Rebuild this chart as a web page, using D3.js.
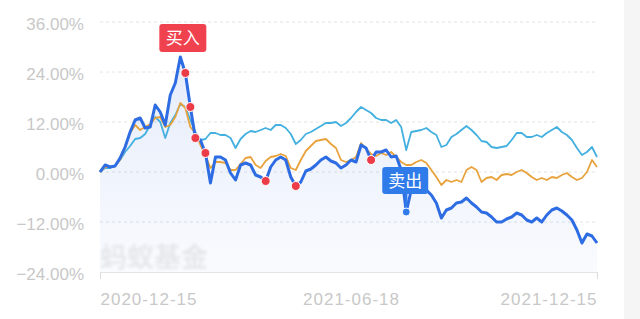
<!DOCTYPE html>
<html>
<head>
<meta charset="utf-8">
<script src="https://cdn.jsdelivr.net/npm/d3@7/dist/d3.min.js"></script>
<style>
  html, body { margin: 0; padding: 0; background: #fff; }
  svg { display: block; font-family: Roboto, "Noto Sans", sans-serif; }
</style>
</head>
<body>
<div id="main"></div>
<script>
// fund (dark blue), benchmark (orange), index (light blue), all in %
var fundValues = [
  0.00, 1.68, 1.20, 1.44, 3.36, 6.00, 9.60, 12.48, 12.96, 10.56,
  10.80, 16.08, 14.40, 11.28, 18.48, 21.36, 27.60, 23.76, 15.60, 8.16,
  7.68, 4.56, -2.64, 3.60, 3.60, 2.88, -0.24, -1.92, 1.68, 2.16,
  1.68, -0.72, -1.20, -2.16, 1.20, 2.88, 3.60, 2.88, -1.20, -3.36,
  -2.40, 0.24, 0.72, 1.68, 2.88, 3.60, 2.64, 2.16, 0.96, 1.68,
  2.88, 2.40, 6.48, 5.76, 2.88, 4.80, 4.80, 5.28, 3.60, 3.84,
  0.48, -9.60, -4.32, -3.84, -3.84, -4.32, -5.52, -7.44, -11.04, -9.12,
  -8.64, -7.44, -7.20, -6.24, -7.44, -8.40, -9.60, -9.84, -10.80, -12.00,
  -12.00, -11.28, -10.80, -9.84, -10.32, -11.52, -12.00, -11.04, -12.00, -10.32,
  -9.12, -8.64, -9.36, -10.32, -11.52, -13.92, -17.04, -14.88, -15.36, -17.04
];
var benchValues = [
  0.00, 1.20, 1.20, 1.44, 2.88, 5.76, 9.36, 11.28, 10.08, 10.80,
  11.52, 12.96, 13.20, 10.80, 11.28, 13.20, 16.56, 15.36, 10.80, 9.36,
  6.48, 4.08, 0.96, 2.40, 2.40, 2.16, 0.48, 0.48, 1.92, 3.36,
  3.60, 1.68, 0.96, 2.64, 3.60, 3.84, 4.32, 3.84, 0.96, 0.48,
  2.88, 5.04, 6.24, 7.44, 7.68, 7.92, 6.72, 5.76, 2.88, 2.40,
  2.88, 3.60, 6.96, 5.52, 4.32, 3.84, 4.56, 4.08, 4.80, 3.60,
  2.40, 1.68, 1.68, 2.40, 2.88, 2.16, 0.48, -1.20, -3.12, -1.92,
  -2.40, -1.92, -2.40, 0.48, 1.20, 0.48, -2.40, -1.44, -1.20, -1.92,
  -0.72, -0.48, -0.72, 0.00, 0.48, -0.24, -1.20, -1.92, -1.44, -1.92,
  -1.20, -1.44, -0.72, -0.24, -1.20, -1.92, -1.44, 0.00, 2.88, 1.20
];
var indexValues = [
  0.00, 0.96, 0.96, 1.44, 2.88, 4.80, 6.24, 7.92, 8.16, 9.12,
  11.28, 13.20, 12.00, 8.16, 11.76, 13.68, 16.32, 15.60, 12.48, 9.60,
  7.68, 7.92, 9.36, 9.36, 8.88, 8.88, 8.16, 5.76, 7.92, 9.12,
  9.84, 9.60, 10.08, 10.56, 10.08, 11.28, 11.28, 10.56, 9.12, 6.72,
  7.68, 9.12, 9.60, 10.32, 11.04, 11.76, 11.76, 12.00, 11.04, 11.76,
  12.96, 14.40, 15.60, 14.88, 14.16, 12.96, 12.48, 12.48, 11.76, 12.48,
  10.80, 5.28, 9.60, 9.84, 10.08, 10.56, 9.60, 8.88, 6.00, 6.48,
  8.40, 9.12, 10.08, 11.04, 10.08, 8.88, 7.44, 7.20, 6.00, 5.76,
  6.00, 6.24, 7.68, 9.36, 9.36, 8.40, 8.40, 8.88, 8.40, 9.36,
  10.08, 10.80, 9.60, 8.88, 7.68, 5.76, 4.08, 4.80, 6.00, 3.60
];
var yTicks = [-24, -12, 0, 12, 24, 36];
var xTickIdx = [0, 50, 99];
var xTickLabels = ["2020-12-15", "2021-06-18", "2021-12-15"];
var buyLabelIdx = 16;
var buyIdx = [17, 18, 19, 21, 33, 39, 54];
var sellIdx = [61];

var width = 640, height = 319;
var plotLeft = 100, plotRight = 597, plotTop = 22, plotBottom = 272;
var svg = d3.select("#main").append("svg")
  .attr("width", width).attr("height", height);

svg.append("rect").attr("x", 624).attr("y", 0)
  .attr("width", 16).attr("height", height).style("fill", "#f5f5f5");

var x = d3.scaleLinear().domain([0, fundValues.length - 1]).range([plotLeft, plotRight]);
var y = d3.scaleLinear().domain([-24, 36]).range([plotBottom, plotTop]);

var defs = svg.append("defs");
var grad = defs.append("linearGradient").attr("id", "areaGrad")
  .attr("x1", 0).attr("y1", 0).attr("x2", 0).attr("y2", 1);
grad.append("stop").attr("offset", "0%").attr("stop-color", "rgba(70,120,225,0.14)");
grad.append("stop").attr("offset", "100%").attr("stop-color", "rgba(70,120,225,0.03)");
defs.append("filter").attr("id", "blur")
  .append("feGaussianBlur").attr("stdDeviation", 1.5);

// grid
svg.append("g")
  .selectAll("line")
  .data(yTicks.filter(function (d) { return d > -24; }))
  .enter().append("line")
  .attr("x1", plotLeft).attr("x2", 595)
  .attr("y1", function (d) { return y(d); })
  .attr("y2", function (d) { return y(d); })
  .style("stroke", "#e2e2e2")
  .style("stroke-dasharray", "3,3");

// y axis labels
var yAxis = svg.append("g")
  .attr("transform", "translate(" + plotLeft + ",0)")
  .call(d3.axisLeft(y).tickValues(yTicks).tickSize(0).tickPadding(16)
    .tickFormat(function (d) { return (d < 0 ? "\u2212" : "") + Math.abs(d).toFixed(2) + "%"; }));
yAxis.select(".domain").remove();
yAxis.selectAll("text")
  .attr("dy", "0.45em")
  .style("font-size", "17px")
  .style("fill", "#c8c8c8");

// watermark
svg.append("text")
  .attr("x", 100).attr("y", 267)
  .text("蚂蚁基金")
  .style("font-family", "'Noto Sans CJK SC'")
  .style("font-size", "27px")
  .style("font-weight", "bold")
  .style("fill", "#ececec")
  .attr("filter", "url(#blur)");

// area under the fund line
var area = d3.area()
  .x(function (d, i) { return x(i); })
  .y0(plotBottom)
  .y1(function (d) { return y(d); });
svg.append("path").datum(fundValues)
  .attr("d", area)
  .style("fill", "url(#areaGrad)");

// x axis
var xAxis = svg.append("g")
  .attr("transform", "translate(0," + plotBottom + ")")
  .call(d3.axisBottom(x).tickValues(xTickIdx).tickSize(7).tickPadding(14)
    .tickFormat(function (d, i) { return xTickLabels[i]; }));
xAxis.select(".domain").style("stroke", "#e4e4e4");
xAxis.selectAll("line").style("stroke", "#dcdcdc")
  .style("opacity", function (d, i) { return i === 1 ? 0 : 1; });
xAxis.selectAll("text")
  .style("font-size", "17px")
  .style("letter-spacing", "1px")
  .style("fill", "#c8c8c8")
  .attr("text-anchor", function (d, i) { return i === 0 ? "start" : (i === 2 ? "end" : "middle"); });

var line = d3.line()
  .x(function (d, i) { return x(i); })
  .y(function (d) { return y(d); });

svg.append("path").datum(indexValues).attr("d", line)
  .style("fill", "none").style("stroke", "#43b0df").style("stroke-width", 1.8)
  .style("stroke-linejoin", "round");
svg.append("path").datum(benchValues).attr("d", line)
  .style("fill", "none").style("stroke", "#e8a23c").style("stroke-width", 1.8)
  .style("stroke-linejoin", "round");
svg.append("path").datum(fundValues).attr("d", line)
  .style("fill", "none").style("stroke", "#2d6ce2").style("stroke-width", 3)
  .style("stroke-linejoin", "round");

// buy / sell points
svg.selectAll(".buy").data(buyIdx).enter().append("circle")
  .attr("class", "buy")
  .attr("cx", function (d) { return x(d); })
  .attr("cy", function (d) { return y(fundValues[d]); })
  .attr("r", 4.5)
  .style("fill", "#ec3c48").style("stroke", "#fff").style("stroke-width", 1);

sellIdx.forEach(function (d) {
  var sx = x(d), sy = y(fundValues[d]);
  svg.append("line").attr("x1", sx).attr("x2", sx)
    .attr("y1", sy - 18).attr("y2", sy)
    .style("stroke", "#2f7be9").style("stroke-width", 2.5);
  svg.append("circle").attr("cx", sx).attr("cy", sy).attr("r", 4)
    .style("fill", "#2f7be9").style("stroke", "#fff").style("stroke-width", 1);
  var g = svg.append("g").attr("transform", "translate(" + (sx - 24) + "," + (sy - 45) + ")");
  g.append("rect").attr("width", 46).attr("height", 27).attr("rx", 3)
    .style("fill", "#2f7be9");
  g.append("text").attr("x", 23).attr("y", 19.5).attr("text-anchor", "middle")
    .text("卖出")
    .style("font-family", "'Noto Sans CJK SC'")
    .style("font-size", "17px").style("fill", "#fff");
});

// buy label above the peak
var bx = x(buyLabelIdx), by = y(fundValues[buyLabelIdx]);
var bg = svg.append("g").attr("transform", "translate(" + (bx - 21) + "," + (by - 33) + ")");
bg.append("rect").attr("width", 47).attr("height", 28).attr("rx", 3)
  .style("fill", "#f0414e");
bg.append("text").attr("x", 23.5).attr("y", 20).attr("text-anchor", "middle")
  .text("买入")
  .style("font-family", "'Noto Sans CJK SC'")
  .style("font-size", "17px").style("fill", "#fff");
</script>
</body>
</html>
